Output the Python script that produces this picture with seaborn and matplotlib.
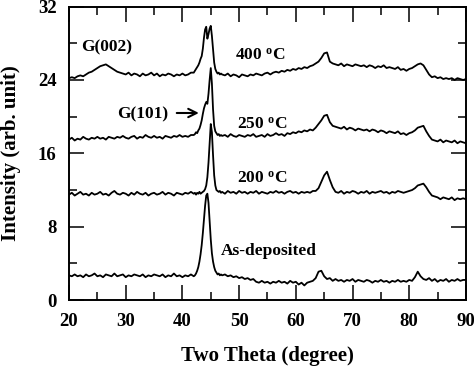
import numpy as np
import pandas as pd
import seaborn as sns
import matplotlib.pyplot as plt

# scan grid: 0.5 deg steps, 0.2 deg steps around the main peak
two_theta = np.concatenate([np.arange(40, 84) / 2,
                            np.arange(210, 235) / 5,
                            np.arange(94, 181) / 2])

# As-deposited
asdep_a = [2.7, 2.6, 2.8, 2.6, 2.7, 2.5, 2.8, 2.6, 2.7, 2.9,
           2.6, 2.7, 2.5, 2.8, 2.7, 2.6, 2.9, 2.6, 2.7, 2.8,
           2.5, 2.7, 2.6, 2.8, 2.7, 2.6, 2.8, 2.5, 2.7, 2.6,
           2.8, 2.7, 2.6, 2.8, 2.5, 2.7, 2.6, 2.9, 2.6, 2.7,
           2.5, 2.7, 2.6, 2.8]
asdep_b = [2.6, 2.7, 2.9, 3.2, 3.6, 4.2, 5.0, 6.0, 7.3, 8.8,
           10.3, 11.4, 11.6, 10.6, 8.6, 6.6, 5.1, 4.2, 3.6, 3.2,
           3.0, 2.8, 2.9, 2.7, 2.8]
asdep_c = [2.7, 2.8, 2.6, 2.7, 2.5, 2.6, 2.4, 2.5, 2.3, 2.4,
           2.2, 2.3, 2.0, 1.9, 2.1, 1.9, 2.0, 1.8, 2.0, 1.9,
           2.1, 1.9, 2.0, 1.8, 2.1, 1.9, 2.0, 1.7, 1.9, 1.6,
           1.9, 2.0, 2.1, 2.4, 3.1, 3.2, 2.6, 2.3, 2.4, 2.1,
           2.3, 2.1, 2.2, 2.0, 2.2, 2.1, 2.3, 2.0, 2.2, 2.1,
           2.0, 2.2, 2.1, 1.9, 2.1, 2.0, 2.2, 2.0, 2.1, 1.9,
           2.1, 2.0, 2.2, 2.0, 2.1, 2.0, 2.2, 2.1, 2.5, 3.1,
           2.6, 2.3, 2.2, 2.4, 2.1, 2.3, 2.0, 2.2, 2.1, 2.3,
           2.0, 2.2, 2.1, 2.3, 2.1, 2.2, 2.2]

# 200 oC
t200_a = [11.5, 11.7, 11.4, 11.6, 11.8, 11.5, 11.6, 11.4, 11.7, 11.5,
          11.6, 11.8, 11.5, 11.6, 11.4, 11.7, 11.9, 11.6, 11.5, 11.7,
          11.6, 11.4, 11.7, 11.5, 11.8, 11.6, 11.5, 11.7, 11.4, 11.6,
          11.7, 11.5, 11.6, 11.8, 11.5, 11.7, 11.6, 11.4, 11.7, 11.6,
          11.5, 11.7, 11.6, 11.8]
t200_b = [11.6, 11.7, 11.5, 11.7, 11.6, 11.8, 11.6, 11.7, 11.8, 11.9,
          12.1, 12.5, 13.4, 15.0, 17.2, 19.2, 18.3, 15.8, 13.6, 12.5,
          12.0, 11.9, 11.8, 11.9, 11.7]
t200_c = [11.8, 11.6, 11.9, 11.7, 11.8, 11.6, 11.9, 11.7, 11.8, 11.6,
          11.8, 11.7, 11.9, 11.6, 11.8, 11.7, 11.6, 11.8, 11.7, 11.9,
          11.7, 11.8, 11.6, 11.8, 11.9, 11.7, 11.8, 11.6, 11.8, 11.7,
          11.8, 11.7, 11.9, 11.9, 12.2, 12.9, 13.6, 14.0, 13.1, 12.3,
          11.8, 11.7, 11.9, 11.6, 11.8, 11.7, 11.9, 11.8, 11.6, 11.8,
          11.7, 11.9, 11.6, 11.8, 11.7, 11.8, 11.9, 11.7, 11.8, 11.6,
          11.8, 11.7, 11.9, 11.8, 11.7, 11.8, 11.9, 12.0, 12.2, 12.5,
          12.6, 12.7, 12.3, 11.8, 11.4, 11.3, 11.2, 11.0, 11.2, 11.1,
          11.0, 11.2, 10.9, 11.1, 11.0, 11.1, 11.0]

# 250 oC
t250_a = [17.5, 17.7, 17.4, 17.6, 17.5, 17.8, 17.6, 17.5, 17.7, 17.6,
          17.8, 17.6, 17.7, 17.5, 17.8, 17.7, 17.6, 17.8, 17.7, 17.9,
          17.7, 17.6, 17.8, 17.9, 17.6, 17.8, 17.7, 18.0, 17.8, 17.7,
          17.9, 17.7, 17.8, 17.6, 17.9, 17.8, 17.7, 17.9, 17.8, 18.0,
          17.8, 17.9, 17.8, 18.0]
t250_b = [18.0, 18.1, 18.3, 18.2, 18.5, 18.7, 19.1, 19.6, 20.3, 20.9,
          21.3, 21.6, 21.4, 22.5, 24.0, 25.3, 23.6, 20.8, 19.0, 18.4,
          18.2, 18.0, 18.1, 17.9, 18.0]
t250_c = [17.9, 18.0, 17.8, 18.1, 17.9, 17.8, 18.0, 17.9, 17.8, 18.0,
          17.9, 18.1, 17.8, 17.9, 18.0, 17.8, 18.1, 17.9, 18.0, 18.2,
          18.0, 18.1, 17.9, 18.2, 18.1, 18.3, 18.2, 18.4, 18.3, 18.5,
          18.4, 18.6, 18.5, 18.8, 19.2, 19.6, 20.1, 20.2, 19.4, 19.0,
          18.9, 18.8, 18.7, 18.9, 18.6, 18.8, 18.7, 18.5, 18.7, 18.6,
          18.5, 18.6, 18.4, 18.6, 18.5, 18.3, 18.5, 18.4, 18.2, 18.4,
          18.3, 18.2, 18.4, 18.1, 18.2, 18.0, 18.2, 18.3, 18.5, 18.8,
          18.9, 19.0, 18.4, 17.9, 17.5, 17.4, 17.3, 17.5, 17.2, 17.4,
          17.3, 17.2, 17.4, 17.1, 17.3, 17.2, 17.1]

# 400 oC
t400_a = [24.2, 24.3, 24.2, 24.4, 24.5, 24.4, 24.6, 24.8, 24.9, 25.1,
          25.3, 25.5, 25.6, 25.7, 25.5, 25.3, 25.1, 24.9, 24.8, 24.7,
          24.6, 24.8, 24.5, 24.7, 24.6, 24.4, 24.7, 24.5, 24.6, 24.8,
          24.5, 24.7, 24.4, 24.6, 24.5, 24.7, 24.6, 24.4, 24.6, 24.5,
          24.7, 24.5, 24.6, 24.8]
t400_b = [24.8, 25.0, 25.2, 25.4, 25.6, 25.9, 26.3, 26.6, 27.4, 28.6,
          29.5, 29.8, 28.5, 29.0, 29.6, 29.9, 28.8, 27.3, 25.9, 25.2,
          24.9, 24.7, 24.8, 24.6, 24.7]
t400_c = [24.6, 24.5, 24.7, 24.4, 24.6, 24.5, 24.3, 24.6, 24.5, 24.4,
          24.6, 24.5, 24.7, 24.6, 24.5, 24.7, 24.8, 24.6, 24.8, 24.9,
          24.8, 25.0, 24.9, 25.1, 25.0, 25.2, 25.1, 25.3, 25.2, 25.4,
          25.3, 25.5, 25.6, 25.8, 26.0, 26.4, 26.9, 27.0, 26.0, 25.8,
          25.7, 25.6, 25.8, 25.5, 25.7, 25.6, 25.5, 25.7, 25.6, 25.5,
          25.6, 25.4, 25.6, 25.5, 25.3, 25.5, 25.4, 25.6, 25.3, 25.4,
          25.3, 25.2, 25.4, 25.1, 25.2, 25.0, 25.2, 25.3, 25.5, 25.7,
          25.8, 25.6, 25.1, 24.6, 24.3, 24.4, 24.2, 24.3, 24.1, 24.2,
          24.1, 24.2, 24.0, 24.2, 24.1, 24.0, 24.1]

samples = {
    'As-deposited': asdep_a + asdep_b + asdep_c,
    '200': t200_a + t200_b + t200_c,
    '250': t250_a + t250_b + t250_c,
    '400': t400_a + t400_b + t400_c,
}

sns.set_theme(style='ticks')
plt.rcParams['font.family'] = ['Liberation Serif', 'DejaVu Serif']
plt.rcParams['font.weight'] = 'bold'
plt.rcParams['text.color'] = 'black'
plt.rcParams['axes.labelcolor'] = 'black'
plt.rcParams['xtick.color'] = 'black'
plt.rcParams['ytick.color'] = 'black'
plt.rcParams['mathtext.fontset'] = 'custom'
plt.rcParams['mathtext.rm'] = 'Liberation Serif:bold'
plt.rcParams['mathtext.it'] = 'Liberation Serif:bold'
plt.rcParams['mathtext.bf'] = 'Liberation Serif:bold'

fig, ax = plt.subplots(figsize=(4.74, 3.66), dpi=100)
fig.subplots_adjust(left=0.1456, right=0.983, bottom=0.180, top=0.982)

for name, vals in samples.items():
    sns.lineplot(x=two_theta, y=vals, color='black', lw=1.3, ax=ax)

ax.set_xlim(20, 90)
ax.set_ylim(0, 32)
ax.set_xticks(range(20, 91, 10))
ax.set_xticks(range(25, 90, 10), minor=True)
ax.set_yticks(range(0, 33, 8))
ax.set_yticks(range(4, 32, 8), minor=True)
ax.tick_params(which='both', direction='in', top=True, right=True,
               color='black', width=1.1)
ax.tick_params(which='major', length=11, labelsize=13.5, pad=9)
ax.tick_params(which='minor', length=6)
for sp in ax.spines.values():
    sp.set_linewidth(1.4)
    sp.set_color('black')

ax.set_xlabel('Two Theta (degree)', fontsize=15, fontweight='bold', labelpad=12)
ax.set_ylabel('Intensity (arb. unit)', fontsize=15, fontweight='bold', labelpad=12)

tk = dict(fontsize=12.5, fontweight='bold', va='center', ha='left')
ax.text(22.2, 27.5, 'G(002)', **tk)
ax.text(49.3, 26.7, r'400 $^{\rm o}$C', **tk)
ax.text(28.5, 20.3, 'G(101)', **tk)
ax.text(49.6, 19.1, r'250 $^{\rm o}$C', **tk)
ax.text(49.6, 13.3, r'200 $^{\rm o}$C', **tk)
ax.text(46.8, 5.4, 'As-deposited', **tk)
ax.annotate('', xy=(42.9, 20.4), xytext=(39.0, 20.4),
            arrowprops=dict(arrowstyle='->,head_length=0.5,head_width=0.25',
                            color='black', lw=1.5, shrinkA=0, shrinkB=0))

fig.savefig('out.png', dpi=100)
